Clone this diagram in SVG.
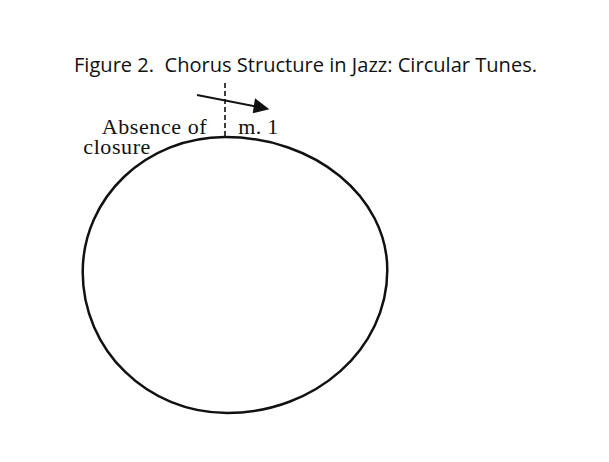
<svg xmlns="http://www.w3.org/2000/svg" width="609" height="462" viewBox="0 0 609 462">
<style>
.title{font-family:"Open Sans","Noto Sans",sans-serif;font-size:20px;fill:#111}
.lbl{font-family:"Liberation Serif","Times New Roman",serif;font-size:22px;fill:#111}
.shape{fill:none;stroke:#111;stroke-width:2.5}
</style>
<rect width="609" height="462" fill="#fff"/>
<text class="title" x="74" y="72" textLength="463" lengthAdjust="spacingAndGlyphs" xml:space="preserve">Figure 2.  Chorus Structure in Jazz: Circular Tunes.</text>
<g id="circle">
<path class="shape" d="M225,137 C314.6,137 387.3,196.5 387.3,270 C387.3,349 315.5,413 227,413 C147.3,413 82.7,349.9 82.7,272 C82.7,197.4 146.4,137 225,137 Z"/>
</g>
<g id="connectors">
<line x1="225" y1="83" x2="225" y2="137" stroke="#111" stroke-width="1.6" stroke-dasharray="5,3"/>
<line x1="197" y1="95" x2="257" y2="106.8" stroke="#111" stroke-width="2"/>
<polygon points="269.3,109.3 255,98.3 252.7,113.3" fill="#111"/>
</g>
<g id="labels">
<text class="lbl" x="101.7" y="134.3" textLength="105">Absence of</text>
<text class="lbl" x="238.3" y="134.3" textLength="40">m. 1</text>
<text class="lbl" x="83.3" y="154" textLength="67">closure</text>
</g>
</svg>
